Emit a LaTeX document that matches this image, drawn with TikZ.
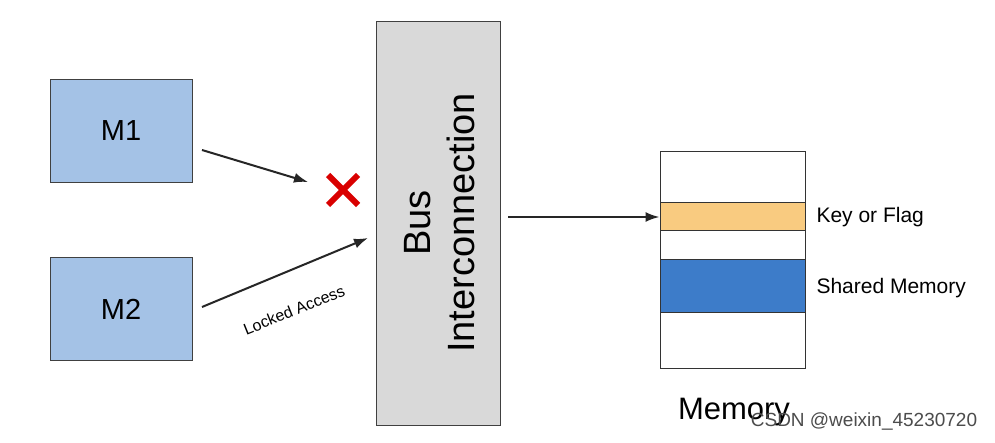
\documentclass[tikz,border=0pt]{standalone}
\usepackage{fontspec}
\setmainfont{Liberation Sans}
\usetikzlibrary{calc,arrows.meta}
\begin{document}
\begin{tikzpicture}[x=1pt,y=-1pt,
  mbox/.style={draw=black!75,line width=1pt,fill={rgb,255:red,164;green,194;blue,230},minimum width=142pt,minimum height=103pt,font=\fontsize{29}{34}\selectfont},
  arr/.style={-{Latex[length=14pt,width=10pt]},line width=2pt,black!85},
  lbl/.style={anchor=west,font=\fontsize{21}{24}\selectfont}]
\useasboundingbox (0,0) rectangle (995,443);
\fill[white] (0,0) rectangle (995,443);
\node[mbox] (m1) at (121,131) {M1};
\node[mbox] (m2) at (121,309) {M2};
\node[draw=black!75,line width=1pt,fill=black!15,minimum width=124pt,minimum height=403pt] (bus) at (438,223.5) {};
\node[rotate=90,align=center,font=\fontsize{38}{44}\selectfont] (bl) at (440,223) {Bus\\Interconnection};
\node[draw=black!80,line width=1pt,fill=white,minimum width=145pt,minimum height=216pt] (mem) at (732.5,260) {};
\node[draw=black!80,line width=1pt,fill={rgb,255:red,249;green,203;blue,128},minimum width=145pt,minimum height=28pt] (key) at (732.5,217) {};
\node[draw=black!80,line width=1pt,fill={rgb,255:red,61;green,124;blue,201},minimum width=145pt,minimum height=53pt] (sh) at (732.5,286.5) {};
\node[lbl] (kl) at (813,217) {Key or Flag};
\node[lbl] (sl) at (813,288) {Shared Memory};
\node[font=\fontsize{31}{36}\selectfont] (ml) at (734,412) {Memory};
\node[font=\fontsize{19}{22}\selectfont,text=black!70] (wm) at (864,422) {CSDN @weixin\_45230720};
\coordinate (a1s) at (202,150); \coordinate (a1e) at (308,182);
\draw[arr] (a1s) -- (a1e);
\coordinate (a2s) at (202,307); \coordinate (a2e) at (368,238);
\draw[arr] (a2s) -- (a2e);
\node[rotate=22,font=\fontsize{16}{18}\selectfont] (la) at (294,310) {Locked Access};
\coordinate (x) at (343,190);
\draw[red!85!black,line width=6pt] ($(x)+(-15,-15)$) -- ($(x)+(15,15)$) ($(x)+(15,-15)$) -- ($(x)+(-15,15)$);
\coordinate (a3s) at (508,217);
\draw[arr] (a3s) -- (key.west);
\end{tikzpicture}
\end{document}
